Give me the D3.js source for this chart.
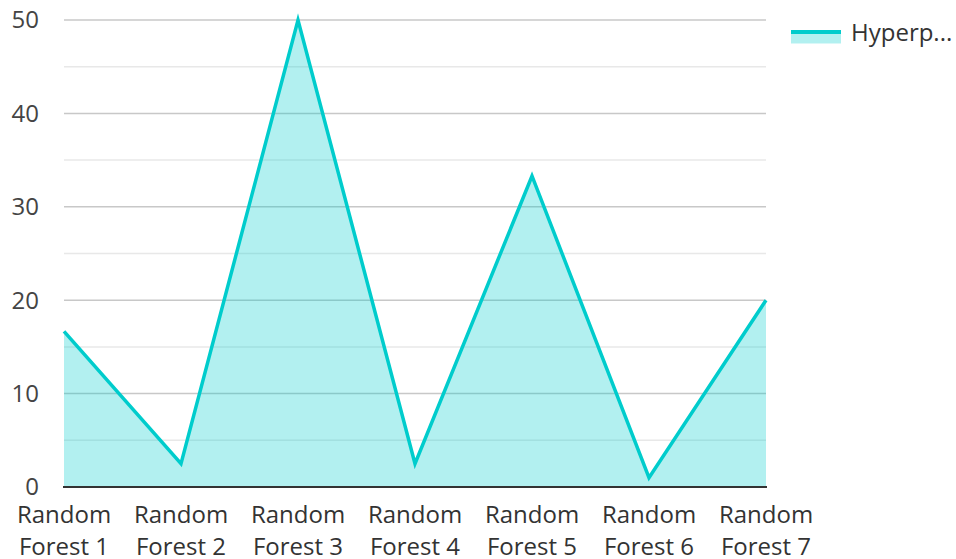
<!DOCTYPE html>
<html>
<head>
<meta charset="utf-8">
<script src="https://cdn.jsdelivr.net/npm/d3@7"></script>
<style>
  html, body { margin: 0; padding: 0; background: #fff; }
  svg { display: block; font-family: "Open Sans", "Noto Sans", sans-serif; }
</style>
</head>
<body>
<svg id="chart" width="956" height="559"></svg>
<script>
// Model names along the x axis (two lines each)
const categories = ["Random Forest 1", "Random Forest 2", "Random Forest 3", "Random Forest 4",
                    "Random Forest 5", "Random Forest 6", "Random Forest 7"];
// Series values
const values = [16.67, 2.5, 50, 2.5, 33.3, 1, 20];
const seriesName = "Hyperp...";
// Y axis ticks
const majorTicks = [0, 10, 20, 30, 40, 50];
const minorTicks = [5, 15, 25, 35, 45];

const svg = d3.select("#chart");
const plotLeft = 64, plotRight = 766, plotTop = 20, plotBottom = 487;
const fontSize = 24;

const x = d3.scalePoint().domain(categories).range([plotLeft, plotRight]);
const y = d3.scaleLinear().domain([0, 50]).range([plotBottom, plotTop]);

const teal = "#00cccc";

// Grid lines
svg.append("g").selectAll("line").data(minorTicks).join("line")
  .attr("x1", plotLeft).attr("x2", plotRight)
  .attr("y1", d => y(d)).attr("y2", d => y(d))
  .attr("stroke", "#e8e8e8").attr("stroke-width", 1.5);
svg.append("g").selectAll("line").data(majorTicks.filter(d => d > 0)).join("line")
  .attr("x1", plotLeft).attr("x2", plotRight)
  .attr("y1", d => y(d)).attr("y2", d => y(d))
  .attr("stroke", "#c8c8c8").attr("stroke-width", 1.5);

// Area + line
const pts = categories.map((c, i) => [x(c), y(values[i])]);
svg.append("path")
  .attr("d", d3.area().x(d => d[0]).y0(y(0)).y1(d => d[1])(pts))
  .attr("fill", teal).attr("fill-opacity", 0.3);
svg.append("path")
  .attr("d", d3.line()(pts))
  .attr("fill", "none").attr("stroke", teal).attr("stroke-width", 3.5)
  .attr("stroke-linejoin", "miter");

// X axis baseline
svg.append("line")
  .attr("x1", plotLeft - 1).attr("x2", plotRight + 1)
  .attr("y1", y(0)).attr("y2", y(0))
  .attr("stroke", "#333").attr("stroke-width", 2);

// Y tick labels
svg.append("g").selectAll("text").data(majorTicks).join("text")
  .attr("x", 39).attr("y", d => y(d)).attr("dy", "0.35em")
  .attr("text-anchor", "end")
  .attr("font-size", fontSize).attr("fill", "#444")
  .text(d => d);

// X tick labels, split over two lines
const xl = svg.append("g").selectAll("text").data(categories).join("text")
  .attr("text-anchor", "middle")
  .attr("font-size", fontSize).attr("fill", "#333");
xl.each(function(d) {
  const parts = d.split(" ");
  const t = d3.select(this);
  t.append("tspan").attr("x", x(d)).attr("y", 523).text(parts[0]);
  t.append("tspan").attr("x", x(d)).attr("y", 555).text(parts.slice(1).join(" "));
});

// Legend
const lg = svg.append("g");
lg.append("rect").attr("x", 791).attr("y", 31).attr("width", 50).attr("height", 12.5)
  .attr("fill", teal).attr("fill-opacity", 0.3);
lg.append("line").attr("x1", 791).attr("x2", 841).attr("y1", 32).attr("y2", 32)
  .attr("stroke", teal).attr("stroke-width", 4);
lg.append("text").attr("x", 851).attr("y", 41)
  .attr("font-size", fontSize).attr("fill", "#333").text(seriesName);
</script>
</body>
</html>
